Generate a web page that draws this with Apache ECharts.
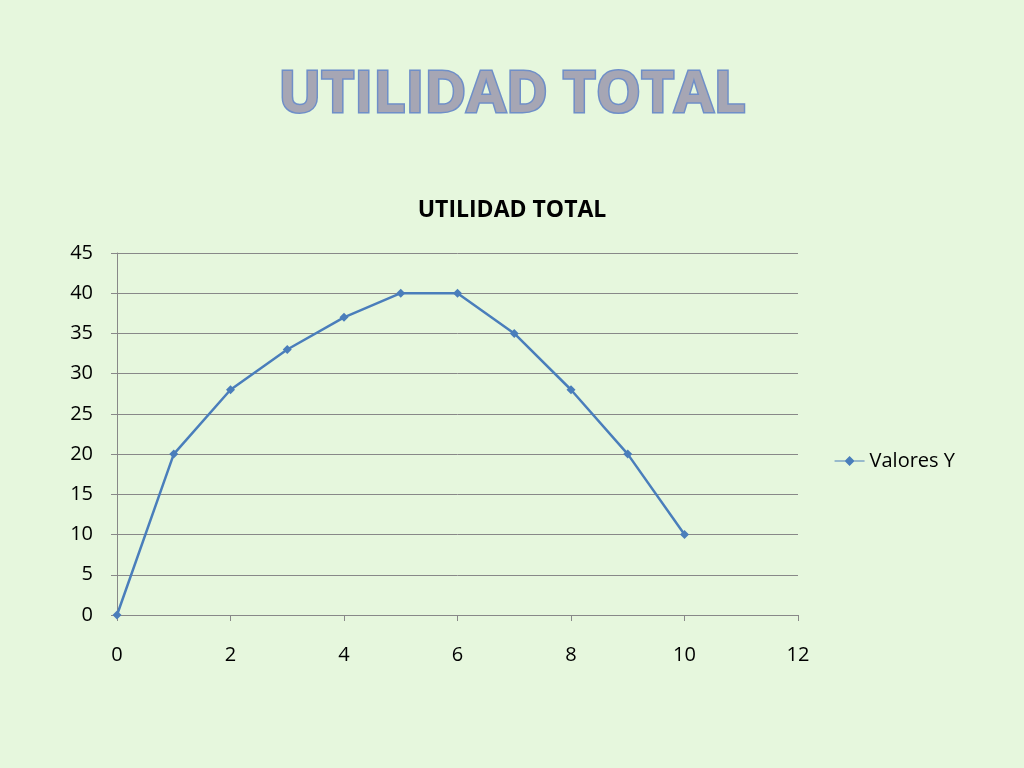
<!DOCTYPE html>
<html><head><meta charset="utf-8">
<script src="https://cdn.jsdelivr.net/npm/echarts@6/dist/echarts.min.js"></script>
<style>html,body{margin:0;background:#e6f7dd;}#c{width:1024px;height:768px;}</style>
</head><body><div id="c"></div>
<script>
const xValues = [0,1,2,3,4,5,6,7,8,9,10];
const yValues = [0,20,28,33,37,40,40,35,28,20,10];
const seriesName = 'Valores Y';
const chart = echarts.init(document.getElementById('c'));
chart.setOption({
  backgroundColor:'#e6f7dd',
  title:[
    {text:'UTILIDAD TOTAL',left:'center',top:62,textStyle:{fontFamily:'Open Sans',fontWeight:'bold',fontSize:57,color:'#a6a6b4',textBorderColor:'#6f8fc8',textBorderWidth:3}},
    {text:'UTILIDAD TOTAL',left:'center',top:194,textStyle:{fontFamily:'Open Sans',fontWeight:'bold',fontSize:23,color:'#000'}}
  ],
  legend:{right:64,top:446,orient:'vertical',itemWidth:30,itemHeight:10,itemGap:4,textStyle:{fontFamily:'Open Sans',fontSize:20,color:'#000'},
    data:[{name:seriesName,icon:'path://M0,4.5L30,4.5L30,5.5L0,5.5Z M15,0L20,5L15,10L10,5Z'}]},
  grid:{left:117,right:226,top:253,bottom:153},
  xAxis:{type:'value',min:0,max:12,interval:2,axisLine:{lineStyle:{color:'#888'}},axisTick:{show:true,length:6,lineStyle:{color:'#888'}},splitLine:{show:false},axisLabel:{fontFamily:'Open Sans',fontSize:20,color:'#000',margin:30}},
  yAxis:{type:'value',min:0,max:45,interval:5,axisLine:{show:true,lineStyle:{color:'#888'}},axisTick:{show:true,length:6,lineStyle:{color:'#888'}},splitLine:{lineStyle:{color:'#888'}},axisLabel:{fontFamily:'Open Sans',fontSize:20,color:'#000',margin:24}},
  series:[{name:seriesName,type:'line',data:xValues.map((x,i)=>[x,yValues[i]]),symbol:'diamond',symbolSize:9,itemStyle:{color:'#4a7ebb'},lineStyle:{color:'#4a7ebb',width:2.5}}]
});
</script></body></html>
